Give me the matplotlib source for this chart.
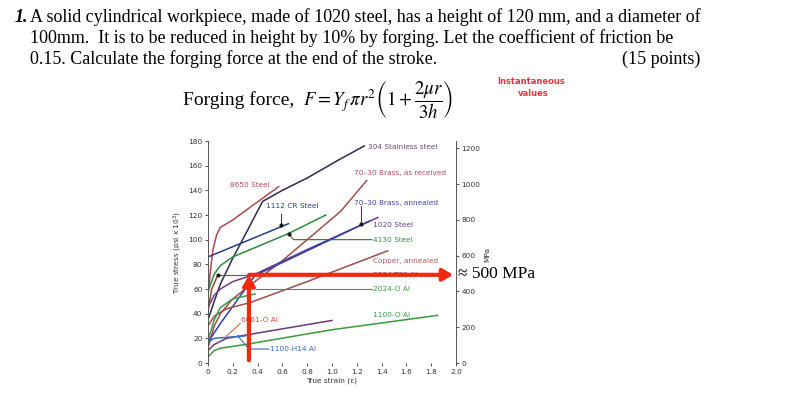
import matplotlib
matplotlib.use("Agg")
import matplotlib.pyplot as plt
import numpy as np

# flow curves (true strain, true stress in ksi)
s304_x = [0, 0.05, 0.1, 0.2, 0.3, 0.44, 0.6, 0.8, 1.06, 1.26]
s304_y = [35, 50, 64, 85, 104, 131, 140, 150, 165, 176]
s8650_x = [0, 0.02, 0.04, 0.07, 0.1, 0.2, 0.35, 0.57]
s8650_y = [55, 75, 92, 104, 110, 116, 127, 143]
cr1112_x = [0, 0.65]
cr1112_y = [86, 113]
brass_rec_x = [0, 0.05, 0.1, 0.2, 0.3, 0.6, 1.07, 1.28]
brass_rec_y = [12, 30, 40, 52, 60, 83, 123, 148]
brass_ann_x = [0, 0.1, 0.2, 0.3, 0.38, 0.8, 1.3]
brass_ann_y = [17, 32, 46, 60, 71, 91, 115]
s1020_x = [0, 0.05, 0.1, 0.2, 0.38, 0.8, 1.37]
s1020_y = [45, 55, 60, 66, 72, 92, 118]
s4130_x = [0, 0.05, 0.1, 0.2, 0.65, 0.95]
s4130_y = [58, 72, 79, 86, 105, 120]
copper_x = [0, 0.05, 0.15, 0.34, 0.8, 1.45]
copper_y = [30, 38, 44, 49, 66, 91]
al2024t_x = [0, 0.03, 0.08]
al2024t_y = [42, 60, 71.5]
al2024o_x = [0, 0.05, 0.1, 0.2, 0.38]
al2024o_y = [18, 35, 45, 52, 56]
al6061_x = [0, 0.05, 0.15, 0.5, 1.0]
al6061_y = [10, 15, 20, 26, 34.5]
al1100h_x = [0, 0.05, 0.3]
al1100h_y = [17, 20, 22]
al1100o_x = [0, 0.05, 0.1, 0.3, 1.0, 1.85]
al1100o_y = [5, 10, 12, 15, 27, 38.6]

curves = [
    (s304_x, s304_y, "#2e2a4e"),
    (s8650_x, s8650_y, "#b0464e"),
    (cr1112_x, cr1112_y, "#283c88"),
    (brass_rec_x, brass_rec_y, "#a84a4c"),
    (s1020_x, s1020_y, "#6e3a8c"),
    (brass_ann_x, brass_ann_y, "#2f40a8"),
    (s4130_x, s4130_y, "#2e8a3e"),
    (copper_x, copper_y, "#9c4e48"),
    (al2024t_x, al2024t_y, "#8a4a3a"),
    (al2024o_x, al2024o_y, "#3a9a4a"),
    (al6061_x, al6061_y, "#6a3a7a"),
    (al1100h_x, al1100h_y, "#3a6ac0"),
    (al1100o_x, al1100o_y, "#3a9a3a"),
]

# label text, position (strain, ksi), colour
labels = [
    ("304 Stainless steel", 1.29, 175.5, "#6a4c7a"),
    ("70\u201330 Brass, as received", 1.18, 154, "#b0505a"),
    ("8650 Steel", 0.175, 144, "#b0505a"),
    ("1112 CR Steel", 0.47, 127, "#2a3c88"),
    ("70\u201330 Brass, annealed", 1.18, 130, "#3a48a0"),
    ("1020 Steel", 1.33, 112, "#6a3a8a"),
    ("4130 Steel", 1.33, 100, "#3a8a4a"),
    ("Copper, annealed", 1.33, 83, "#b05a5a"),
    ("2024-T36 Al", 1.33, 71.5, "#8a4a3a"),
    ("2024-O Al", 1.33, 60, "#3a9a4a"),
    ("1100-O Al", 1.33, 39, "#3a9a4a"),
    ("6061-O Al", 0.265, 35, "#d04a3a"),
    ("1100-H14 Al", 0.5, 11.3, "#3a6ac0"),
]

xticks = [0, 0.2, 0.4, 0.6, 0.8, 1.0, 1.2, 1.4, 1.6, 1.8, 2.0]
xticklabels = ["0", "0.2", "0.4", "0.6", "0.8", "1.0", "1.2", "1.4", "1.6", "1.8", "2.0"]
yticks = [0, 20, 40, 60, 80, 100, 120, 140, 160, 180]
mpa_ticks = [0, 200, 400, 600, 800, 1000, 1200]

strain_read = 0.33
stress_read = 71.5

fig = plt.figure(figsize=(8.05, 3.98), dpi=100)
fig.patch.set_facecolor("white")

serif = "Liberation Serif"
fig.text(15 / 805, 1 - 17 / 398, "1.", family=serif, fontsize=13, style="italic",
         weight="bold", va="center")
lines = ["A solid cylindrical workpiece, made of 1020 steel, has a height of 120 mm, and a diameter of",
         "100mm.  It is to be reduced in height by 10% by forging. Let the coefficient of friction be",
         "0.15. Calculate the forging force at the end of the stroke."]
for i, t in enumerate(lines):
    fig.text(30 / 805, 1 - (17 + 21 * i) / 398, t, family=serif, fontsize=13, va="center")
fig.text(700 / 805, 1 - 59 / 398, "(15 points)", family=serif, fontsize=13, va="center", ha="right")

fig.text(183 / 805, 1 - 100 / 398, "Forging force,", family=serif, fontsize=14, va="center")
fig.text(303 / 805, 1 - 100 / 398,
         r"$F = Y_f\,\pi r^2\left(1+\dfrac{2\mu r}{3h}\right)$",
         fontsize=13.5, va="center", math_fontfamily="stix")
fig.text(531 / 805, 1 - 82 / 398, "Instantaneous", color="#e8323c", fontsize=6,
         weight="bold", ha="center", va="center")
fig.text(533 / 805, 1 - 93 / 398, "values", color="#e8323c", fontsize=6,
         weight="bold", ha="center", va="center")

ax = fig.add_axes([208 / 805, 1 - 363 / 398, 248 / 805, 222 / 398])
for x, y, c in curves:
    ax.plot(x, y, color=c, lw=1.1)

# leader lines and markers
ax.plot([0.08, 1.32], [71.5, 71.5], color="#8a4a3a", lw=0.8)
ax.plot([0.38, 1.32], [60, 60], color="#3a9a4a", lw=0.8)
ax.plot([0.65, 0.69, 1.32], [105, 100, 100], color="#2e6a3e", lw=0.8)
ax.plot([0.59, 0.59], [121, 112], color="#283c88", lw=0.8)
ax.plot([1.23, 1.23], [127, 114], color="#2f40a8", lw=0.8)
ax.plot([0.26, 0.15], [32, 22], color="#e06a3a", lw=0.8)
ax.plot([0.24, 0.33, 0.49], [22, 11.3, 11.3], color="#3a6ac0", lw=0.8)
ax.plot([0.59, 0.65, 1.23, 0.08], [112, 105, 113, 71.5], "o", ms=2, color="#1a1a1a")

for t, x, y, c in labels:
    ax.text(x, y, t, color=c, fontsize=5.3, va="center", ha="left")

ax.annotate("", xy=(strain_read, stress_read + 2), xytext=(strain_read, 0),
            arrowprops=dict(arrowstyle="-|>,head_width=0.35,head_length=0.6",
                            color="#f02a10", lw=3))
ax.annotate("", xy=(2.0, stress_read), xytext=(strain_read - 0.02, stress_read),
            arrowprops=dict(arrowstyle="-|>,head_width=0.35,head_length=0.6",
                            color="#f02a10", lw=3))

ax.set_xlim(0, 2.0)
ax.set_ylim(0, 180)
ax.set_xticks(xticks)
ax.set_xticklabels(xticklabels)
ax.set_yticks(yticks)
ax.tick_params(labelsize=5.3, length=2.5, width=0.6, colors="#333333", pad=1.5)
ax.spines["top"].set_visible(False)
ax.spines["bottom"].set_visible(False)
ax.spines["right"].set_visible(False)
ax.spines["left"].set_linewidth(0.7)
ax.spines["left"].set_color("#555555")
ax.set_xlabel("True strain (\u03b5)", fontsize=5.3, labelpad=2, color="#333333")
ax.set_ylabel("True stress (psi x 10$^3$)", fontsize=5.3, labelpad=3, color="#333333")

ax2 = ax.twinx()
ax2.set_ylim(0, 180 * 6.895)
ax2.set_yticks(mpa_ticks)
ax2.tick_params(labelsize=5.3, length=2.5, width=0.6, colors="#333333", pad=1.5)
for k in ["top", "bottom", "left"]:
    ax2.spines[k].set_visible(False)
ax2.spines["right"].set_linewidth(0.7)
ax2.spines["right"].set_color("#555555")
fig.text(487 / 805, 1 - 254 / 398, "MPa", fontsize=5.3, rotation=90, color="#333333",
         ha="center", va="center")
fig.text(458 / 805, 1 - 274 / 398, "\u2248 500 MPa", family=serif, fontsize=12.5,
         va="center")

fig.savefig("out.png", dpi=100)
